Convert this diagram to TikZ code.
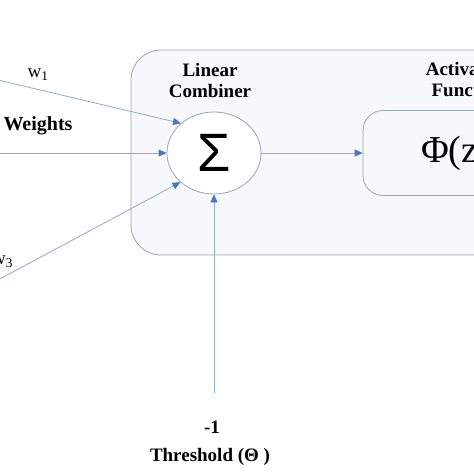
\documentclass[tikz,border=0pt]{standalone}
\usepackage{fontspec}
\setmainfont{Liberation Serif}
\newfontfamily\sigmafont{Liberation Sans}
\usetikzlibrary{arrows.meta,positioning,shapes.geometric}
\definecolor{linkblue}{HTML}{8FAACB}
\definecolor{tipblue}{HTML}{4A74C9}
\definecolor{boxline}{HTML}{9AA6B4}
\definecolor{boxfill}{HTML}{F6F8FB}

\begin{document}
\begin{tikzpicture}[x=1pt, y=-1pt,
    panel/.style={rectangle, draw=boxline, fill=boxfill, line width=0.8pt, inner sep=0pt},
    summer/.style={ellipse, draw=boxline, fill=white, line width=0.8pt, minimum width=94pt, minimum height=82pt, inner sep=0pt},
    link/.style={draw=linkblue, line width=0.8pt, -{Triangle[length=8pt, width=7pt, color=tipblue]}},
    lbl/.style={font=\fontsize{19}{21}\selectfont\bfseries, align=center, inner sep=0pt},
    wlbl/.style={font=\fontsize{19}{21}\selectfont, inner sep=0pt}
]
\useasboundingbox (0,0) rectangle (474,474);
\fill[white] (0,0) rectangle (474,474);
\node[panel, rounded corners=30pt, minimum width=389pt, minimum height=205pt] (outer) at (325.5,152.5) {};
\node[panel, rounded corners=20pt, minimum width=197pt, minimum height=85pt] (act) at (461.5,153) {};
\node[summer] (sum) at (214,153) {\sigmafont\fontsize{54}{54}\selectfont Σ};
\node[lbl] (lincomb) at (210,80) {Linear\\Combiner};
\node[lbl] (actfun) at (468,80) {Activation\\Function};
\node[font=\fontsize{38}{40}\selectfont, anchor=west, inner sep=0pt] (phi) at (421,153) {Φ(z)};
\node[wlbl] (w1) at (38,75) {w\textsubscript{1}};
\node[lbl, font=\fontsize{20}{22}\selectfont\bfseries] (weights) at (38,126) {Weights};
\node[wlbl, anchor=west] (w3) at (-8,262) {w\textsubscript{3}};
\node[lbl] (minusone) at (212,427) {-1};
\node[lbl] (threshold) at (210,457) {Threshold (Θ )};
\coordinate (in1) at (-2,80);
\coordinate (in2) at (-2,153);
\coordinate (in3) at (-2,280);
\coordinate (thr) at (214,393);

\draw[link] (in1) -- (sum.138);
\draw[link] (in2) -- (sum.west);
\draw[link] (in3) -- (sum.221);
\draw[link] (thr) -- (sum.south);
\draw[link] (sum.east) -- (act.west);
\end{tikzpicture}
\end{document}
